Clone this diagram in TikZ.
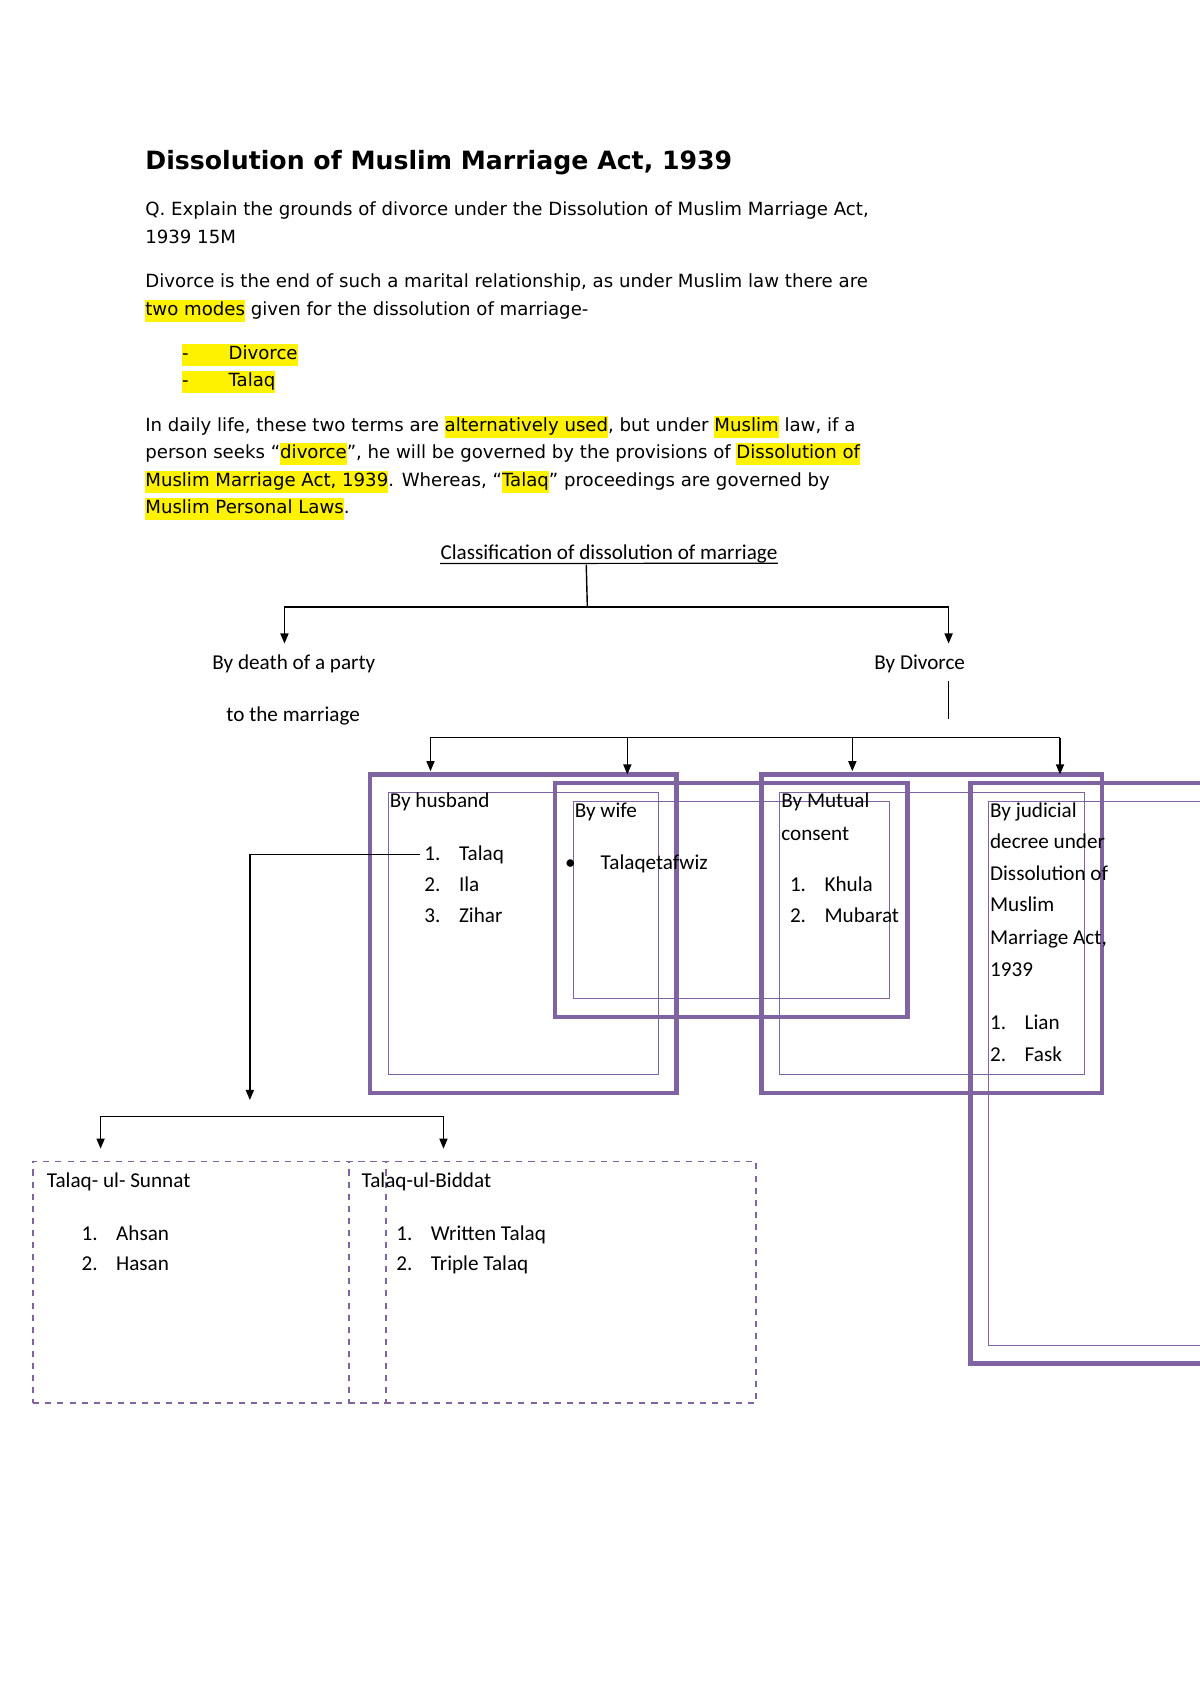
\documentclass[tikz,border=0pt]{standalone}
\usepackage{fontspec}
\setmainfont{DejaVu Sans}
\newfontfamily\calfont{Carlito}
\usetikzlibrary{arrows.meta}
\definecolor{boxpurple}{HTML}{8064A2}
\newcommand\hlt[1]{{\setlength{\fboxsep}{0pt}\colorbox{yellow}{\strut #1}}}
\begin{document}
\begin{tikzpicture}[x=0.5366pt,y=-0.5366pt,
  txt/.style={anchor=base west,inner sep=0pt,font=\fontsize{9}{11}\selectfont},
  btxt/.style={anchor=base west,inner sep=0pt,font=\calfont\fontsize{10.5}{12}\selectfont},
  conn/.style={line width=0.7pt},
  arr/.style={line width=0.7pt,-{Triangle[length=5pt,width=4pt]}},
  outerbox/.style={draw=boxpurple,line width=2.2pt,inner sep=0pt},
  innerbox/.style={draw=boxpurple,line width=0.5pt,inner sep=0pt},
  dbox/.style={draw=boxpurple,dashed,line width=0.8pt,inner sep=0pt}]
\useasboundingbox[fill=white] (0,0) rectangle (1109,1568);
% text
\node[txt,font=\bfseries\fontsize{12.5}{14}\selectfont] (title) at (134,157) {Dissolution of Muslim Marriage Act, 1939};
\node[txt] (q1) at (134,199) {Q. Explain the grounds of divorce under the Dissolution of Muslim Marriage Act,};
\node[txt] (q2) at (134,225) {1939 15M};
\node[txt] (p1) at (134,266) {Divorce is the end of such a marital relationship, as under Muslim law there are};
\node[txt] (p2) at (134,292) {\hlt{two modes} given for the dissolution of marriage-};
\node[txt] (l1) at (168,332) {\hlt{-\hspace{2.2em}Divorce}};
\node[txt] (l2) at (168,357) {\hlt{-\hspace{2.2em}Talaq}};
\node[txt] (r1) at (134,399) {In daily life, these two terms are \hlt{alternatively used}, but under \hlt{Muslim} law, if a};
\node[txt] (r2) at (134,424) {person seeks “\hlt{divorce}”, he will be governed by the provisions of \hlt{Dissolution of}};
\node[txt] (r3) at (134,450) {\hlt{Muslim Marriage Act, 1939}. Whereas, “\hlt{Talaq}” proceedings are governed by};
\node[txt] (r4) at (134,475) {\hlt{Muslim Personal Laws}.};
% heading
\node[anchor=base,inner sep=0pt,font=\calfont\fontsize{10.5}{12}\selectfont] (cls) at (563,517) {Classification of dissolution of marriage};
\draw[line width=0.6pt] (cls.base west) ++(0,4) -- ([yshift=-2pt]cls.base east);
\coordinate (c0) at (542,522);
\coordinate (c1) at (543,561);
\coordinate (cl) at (263,561);
\coordinate (cr) at (877,561);
\node[btxt] (death1) at (196,619) {By death of a party};
\node[btxt] (death2) at (209,667) {to the marriage};
\node[btxt] (bydiv) at (808,619) {By Divorce};
\coordinate (dtop) at (263,595);
\coordinate (vtop) at (877,595);
\draw[conn] (c0) -- (c1);
\draw[conn] (cl) -- (cr);
\draw[arr] (cl) -- (dtop);
\draw[arr] (cr) -- (vtop);
\coordinate (dv0) at (877,630);
\coordinate (dv1) at (877,665);
\draw[conn] (dv0) -- (dv1);
% boxes
\node[outerbox,minimum width=152,minimum height=158,anchor=north west] (bh) at (340,714) {};
\node[innerbox,minimum width=134,minimum height=140] (bhi) at (bh.center) {};
\node[outerbox,minimum width=175,minimum height=116,anchor=north west] (bw) at (511,722) {};
\node[innerbox,minimum width=157,minimum height=98] (bwi) at (bw.center) {};
\node[outerbox,minimum width=169,minimum height=158,anchor=north west] (bm) at (702,714) {};
\node[innerbox,minimum width=151,minimum height=140] (bmi) at (bm.center) {};
\node[outerbox,minimum width=164,minimum height=288,anchor=north west] (bj) at (895,722) {};
\node[innerbox,minimum width=146,minimum height=270] (bji) at (bj.center) {};
\coordinate (h0) at (398,682);
\coordinate (h1) at (980,682);
\draw[conn] (h0) -- (h1);
\draw[arr] (h0) -- (398,713);
\draw[arr] (580,682) -- (580,716);
\draw[arr] (788,682) -- (788,713);
\draw[arr] (h1) -- (980,716);
% box texts
\node[btxt] (th) at (360,747) {By husband};
\node[btxt] (th1n) at (392,796) {1.}; \node[btxt] (th1) at (424,796) {Talaq};
\node[btxt] (th2n) at (392,824) {2.}; \node[btxt] (th2) at (424,824) {Ila};
\node[btxt] (th3n) at (392,853) {3.}; \node[btxt] (th3) at (424,853) {Zihar};
\node[btxt] (tw) at (531,756) {By wife};
\node[btxt] (twb) at (522,804) {\textbullet}; \node[btxt] (tw1) at (555,804) {Talaqetafwiz};
\node[btxt] (tm) at (722,747) {By Mutual};
\node[btxt] (tm2) at (722,777) {consent};
\node[btxt] (tm1n) at (730,824) {1.}; \node[btxt] (tm1) at (762,824) {Khula};
\node[btxt] (tm2n) at (730,853) {2.}; \node[btxt] (tm2b) at (762,853) {Mubarat};
\node[btxt] (tj1) at (915,756) {By judicial};
\node[btxt] (tj2) at (915,784) {decree under};
\node[btxt] (tj3) at (915,814) {Dissolution of};
\node[btxt] (tj4) at (915,843) {Muslim};
\node[btxt] (tj5) at (915,873) {Marriage Act,};
\node[btxt] (tj6) at (915,903) {1939};
\node[btxt] (tj7n) at (915,952) {1.}; \node[btxt] (tj7) at (947,952) {Lian};
\node[btxt] (tj8n) at (915,981) {2.}; \node[btxt] (tj8) at (947,981) {Fask};
% talaq branch
\coordinate (tq0) at (231,790);
\coordinate (tq1) at (231,1017);
\coordinate (tqs) at (388,790);
\draw[conn] (tqs) -- (tq0);
\draw[arr] (tq0) -- (tq1);
\coordinate (s0) at (93,1032);
\coordinate (s1) at (410,1032);
\draw[conn] (s0) -- (s1);
\draw[arr] (s0) -- (93,1062);
\draw[arr] (s1) -- (410,1062);
\node[dbox,minimum width=175,minimum height=120,anchor=north west] (ds) at (30,1073) {};
\node[dbox,minimum width=202,minimum height=120,anchor=north west] (db) at (322,1073) {};
\node[btxt] (ts) at (43,1098) {Talaq- ul- Sunnat};
\node[btxt] (ts1n) at (75,1147) {1.}; \node[btxt] (ts1) at (107,1147) {Ahsan};
\node[btxt] (ts2n) at (75,1175) {2.}; \node[btxt] (ts2) at (107,1175) {Hasan};
\node[btxt] (tb) at (334,1098) {Talaq-ul-Biddat};
\node[btxt] (tb1n) at (366,1147) {1.}; \node[btxt] (tb1) at (398,1147) {Written Talaq};
\node[btxt] (tb2n) at (366,1175) {2.}; \node[btxt] (tb2) at (398,1175) {Triple Talaq};
\end{tikzpicture}
\end{document}
